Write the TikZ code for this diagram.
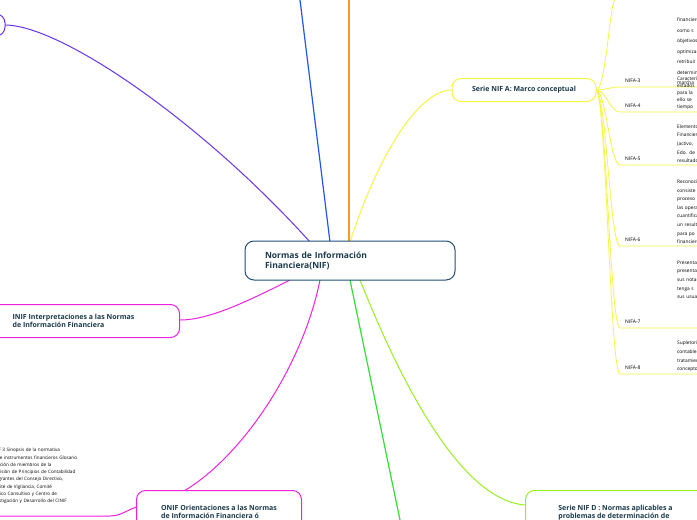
\documentclass[tikz,border=0pt]{standalone}
\usepackage{fontspec}
\setmainfont{Open Sans}
\definecolor{navy}{HTML}{1F4E79}
\definecolor{dk}{HTML}{1A3A4A}
\definecolor{ylw}{HTML}{F5F542}
\definecolor{lgr}{HTML}{99EE22}
\definecolor{grn}{HTML}{33DD33}
\definecolor{mag}{HTML}{EE22DD}
\definecolor{pur}{HTML}{6633EE}
\definecolor{blu}{HTML}{2255EE}
\definecolor{org}{HTML}{FF9922}
\begin{document}
\begin{tikzpicture}[x=1pt,y=-1pt,
  topic/.style={draw,rounded corners=9pt,line width=1pt,fill=white,text=dk,font=\bfseries\fontsize{7}{8.5}\selectfont,align=left,inner xsep=8pt},
  small/.style={font=\fontsize{4.8}{8.6}\selectfont,align=left,anchor=south west,inner sep=0pt,text width=60pt},
  lab/.style={font=\fontsize{5}{6}\selectfont,anchor=base west,inner sep=0pt}]
\useasboundingbox (0,0) rectangle (697,520);
\begin{scope}
\clip (0,0) rectangle (697,520);
\draw[blu,line width=1.2pt] (330,242) -- (300,0);
\draw[org,line width=1.2pt] (349,242) -- (349,0);
\draw[pur,line width=1pt] (310,242) .. controls (200,120) and (60,25) .. (5,25);
\draw[mag,line width=1pt] (290,280) .. controls (250,300) and (210,320) .. (180,320);
\draw[mag,line width=1pt] (320,280) .. controls (300,380) and (220,490) .. (150,505);
\draw[grn,line width=1.2pt] (350,280) -- (400,520);
\draw[lgr,line width=1pt] (360,280) .. controls (400,380) and (460,500) .. (525,505);
\draw[ylw,line width=1pt] (350,242) .. controls (380,150) and (420,90) .. (452,90);
\foreach \y/\n in {87/3,112/4,165/5,246/6,328/7,374/8}{
  \draw[ylw,line width=0.8pt] (596,90) .. controls (606,90) and (610,\y) .. (620,\y) -- (697,\y);
  \node[lab] at (625,\y-5) {NIFA-\n};
}
\draw[ylw,line width=0.8pt] (596,90) .. controls (606,90) and (610,0) .. (615,0);
\node[small,font=\fontsize{4.8}{10.5}\selectfont] at (677,85) {financieros\\como s\\objetivos\\optimizar\\retribuir\\determinar\\marcha};
\node[small,font=\fontsize{4.8}{7}\selectfont] at (677,110) {Características\\estados\\para la\\ello se\\tiempo};
\node[small] at (677,163) {Elementos\\Financieros\\(activo,\\Edo. de\\resultados};
\node[small] at (677,244) {Reconocimiento\\consiste\\proceso\\las operaciones\\cuantificar\\un resultado\\para po\\financieros};
\node[small] at (677,299) {Presentación\\presentar\\sus notas\\tenga s\\sus usuarios};
\node[small] at (677,372) {Supletoriedad\\contables\\tratamiento\\concepto};
\node[small,text width=140pt,anchor=north west,font=\fontsize{4.6}{7.3}\selectfont] at (-10,448) {ONIF 3 Sinopsis de la normativa\\sobre instrumentos financieros Glosario\\Rotación de miembros de la\\Comisión de Principios de Contabilidad\\Integrantes del Consejo Directivo,\\Comité de Vigilancia, Comité\\Técnico Consultivo y Centro de\\Investigación y Desarrollo del CINIF};
\draw[mag,line width=1pt] (0,516) -- (110,516) .. controls (125,516) and (130,505) .. (150,505);
\node[topic,draw=navy,minimum width=210pt,minimum height=39pt,text width=190pt,inner xsep=10pt,font=\bfseries\fontsize{8.5}{10}\selectfont] (c) at (350,260.5) {\hspace*{10pt}Normas de Información\\\hspace*{10pt}Financiera(NIF)};
\node[topic,draw=ylw,minimum width=144pt,minimum height=23pt] (a) at (524,90) {Serie NIF A: Marco conceptual};
\node[topic,draw=mag,minimum width=200pt,minimum height=33pt,anchor=east] (i) at (180,321) {\hspace*{-12pt}INIF Interpretaciones a las Normas\\\hspace*{-12pt}de Información Financiera};
\node[topic,draw=mag,minimum width=165pt,minimum height=60pt,anchor=north west,inner xsep=12pt] (o) at (136,490) {ONIF Orientaciones a las Normas\\de Información Financiera ó\\ \\ };
\node[topic,draw=lgr,minimum width=180pt,minimum height=60pt,anchor=north west,inner xsep=12pt] (d) at (525,490) {Serie NIF D : Normas aplicables a\\problemas de determinación de\\ \\ };
\node[topic,draw=pur,minimum width=40pt,minimum height=22pt] (p) at (-15,25) {};
\end{scope}
\end{tikzpicture}
\end{document}
